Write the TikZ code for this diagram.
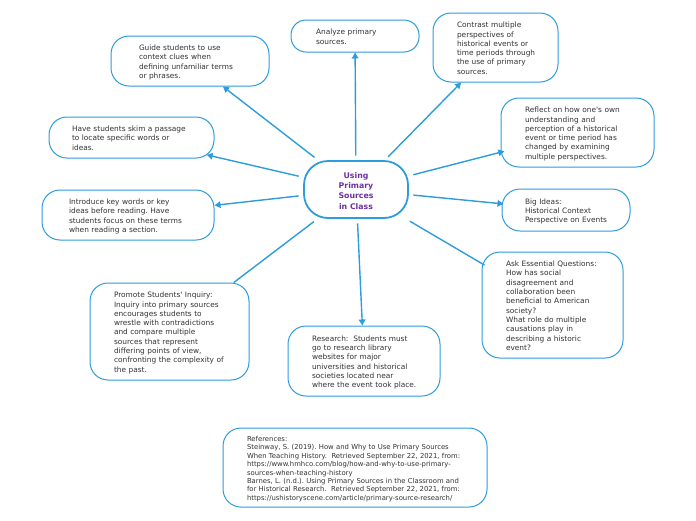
\documentclass[tikz,border=0pt]{standalone}
\usepackage{fontspec}
\setmainfont{DejaVu Sans}
\usetikzlibrary{arrows.meta}
\definecolor{mapblue}{HTML}{2D9CDB}
\definecolor{titlepurple}{HTML}{7030A0}
\definecolor{bodytext}{HTML}{333333}
\frenchspacing
\newcommand{\boxtext}[1]{\raisebox{-1.6pt}[\height][\depth]{\begin{tabular}{@{}l@{}}#1\end{tabular}}}

\begin{document}
\begin{tikzpicture}[x=1pt,y=-1pt,
    idea/.style={draw=mapblue,line width=1pt,rounded corners=18pt,fill=white,inner sep=0pt,
        align=left,text=bodytext,font=\fontsize{7.4}{9.3}\selectfont},
    link/.style={draw=mapblue,line width=1.4pt,shorten <=4.5pt,-{Triangle[length=6pt,width=6.5pt]}}]

			\useasboundingbox (0,0) rectangle (696,520);
			% central topic
			\node[draw=mapblue,line width=1.8pt,rounded corners=24pt,fill=white,minimum width=104pt,minimum height=57pt,
			    align=center,text=titlepurple,font=\fontsize{7.8}{10.3}\selectfont\bfseries] (center) at (356,189.5)
			    {\raisebox{-2pt}[\height][\depth]{\begin{tabular}{@{}c@{}}Using\\Primary\\Sources\\in Class\end{tabular}}};
			% branches
			\node[idea,minimum width=158pt,minimum height=50pt,text width=102pt] (guide) at (190,61)
			    {\boxtext{Guide students to use\\context clues when\\defining unfamiliar terms\\or phrases.}};
			\node[idea,rounded corners=15pt,minimum width=128pt,minimum height=32pt,text width=78pt] (analyze) at (355,36)
			    {\boxtext{Analyze primary\\sources.}};
			\node[idea,minimum width=125pt,minimum height=69pt,text width=77pt] (contrast) at (495.5,47.5)
			    {\boxtext{Contrast multiple\\perspectives of\\historical events or\\time periods through\\the use of primary\\sources.}};
			\node[idea,minimum width=165pt,minimum height=41pt,text width=119pt] (skim) at (131.5,137.5)
			    {\boxtext{Have students skim a passage\\to locate specific words or\\ideas.}};
			\node[idea,minimum width=153pt,minimum height=69pt,text width=105pt] (reflect) at (577.5,132.5)
			    {\boxtext{Reflect on how one\textquotesingle s own\\understanding and\\perception of a historical\\event or time period has\\changed by examining\\multiple perspectives.}};
			\node[idea,minimum width=172pt,minimum height=50pt,text width=118pt] (introduce) at (128,215)
			    {\boxtext{Introduce key words or key\\ideas before reading. Have\\students focus on these terms\\when reading a section.}};
			\node[idea,minimum width=128pt,minimum height=42pt,text width=82pt] (bigideas) at (566,210)
			    {\boxtext{Big Ideas:\\Historical Context\\Perspective on Events}};
			\node[idea,minimum width=159pt,minimum height=97pt,text width=111pt] (inquiry) at (169.5,331.5)
			    {\boxtext{Promote Students\textquotesingle\ Inquiry:\\Inquiry into primary sources\\encourages students to\\wrestle with contradictions\\and compare multiple\\sources that represent\\differing points of view,\\confronting the complexity of\\the past.}};
			\node[idea,minimum width=152pt,minimum height=70pt,text width=104pt] (research) at (364,361)
			    {\boxtext{Research:\ \ Students must\\go to research library\\websites for major\\universities and historical\\societies located near\\where the event took place.}};
			\node[idea,minimum width=141pt,minimum height=106pt,text width=93pt] (questions) at (552.5,305)
			    {\boxtext{Ask Essential Questions:\\How has social\\disagreement and\\collaboration been\\beneficial to American\\society?\\What role do multiple\\causations play in\\describing a historic\\event?}};
			% references
			\node[idea,minimum width=264pt,minimum height=79pt,text width=216pt,font=\fontsize{6.85}{8.45}\selectfont] (refs) at (355,467.5)
			    {\boxtext{References:\\Steinway, S. (2019). How and Why to Use Primary Sources\\When Teaching History.\ \ Retrieved September 22, 2021, from:\\https://www.hmhco.com/blog/how-and-why-to-use-primary-\\sources-when-teaching-history\\Barnes, L. (n.d.). Using Primary Sources in the Classroom and\\for Historical Research.\ \ Retrieved September 22, 2021, from:\\https://ushistoryscene.com/article/primary-source-research/}};
			% connectors
			\draw[link] (center) -- (guide);
			\draw[link] (center) -- (analyze);
			\draw[link] (center) -- (contrast);
			\draw[link,shorten >=-8pt] (center) -- (skim);
			\draw[link,shorten >=-4pt] (center) -- (reflect);
			\draw[link] (center) -- (introduce);
			\draw[link,shorten >=-2pt] (center) -- (bigideas);
			\draw[link,-] (center) -- (inquiry);
			\draw[link] (center) -- (research);
			\draw[link,-,shorten >=-3.5pt] (center) -- (questions);

\end{tikzpicture}
\end{document}
